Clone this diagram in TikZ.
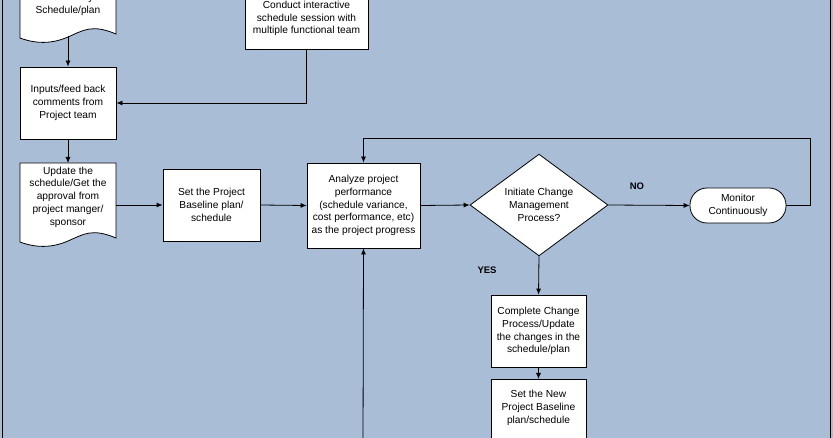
\documentclass[tikz,border=0pt]{standalone}
\usepackage{fontspec}
\setmainfont{Liberation Sans}
\usetikzlibrary{shapes.geometric,arrows.meta}
\begin{document}
\begin{tikzpicture}[x=1pt,y=-1pt,
  ft/.style={font=\fontsize{10.2}{12.8}\selectfont},
  box/.style={draw=black,fill=white,line width=0.8pt,align=center,ft,inner sep=1pt},
  lbl/.style={font=\bfseries\fontsize{9.5}{10}\selectfont},
  arr/.style={-{Latex[length=6pt,width=5pt]},line width=0.8pt}]
\useasboundingbox (0,0) rectangle (833,438);
\clip (0,0) rectangle (833,438);
\fill[fill={rgb,255:red,169;green,189;blue,215}] (0,0) rectangle (833,438);
\draw[line width=0.8pt] (2,-5) -- (2,445);
\draw[line width=0.8pt] (830,-5) -- (830,445);
% documents
\draw[fill=white,line width=0.8pt] (20,-20) -- (116,-20) -- (116,34) .. controls (92,24) and (84,30) .. (68,37) .. controls (52,44) and (36,44) .. (20,38) -- cycle;
\node[align=center,ft] (pre) at (68,4) {Preliminary\\Schedule/plan};
\coordinate (preb) at (68,36);
\node[box,minimum width=96pt,minimum height=72pt] (inp) at (68,103) {Inputs/feed back\\comments from\\Project team};
\draw[fill=white,line width=0.8pt] (20,163) -- (116,163) -- (116,238) .. controls (92,228) and (84,234) .. (68,241) .. controls (52,248) and (36,248) .. (20,242) -- cycle;
\node[align=center,ft] (upd) at (68,197) {Update the\\schedule/Get the\\approval from\\project manger/\\sponsor};
\coordinate (updr) at (116,205);
\coordinate (updt) at (68,163);
\node[box,minimum width=97pt,minimum height=72pt] (base) at (211.5,205) {Set the Project\\Baseline plan/\\schedule};
\node[box,minimum width=113pt,minimum height=85pt] (ana) at (363.5,205.5) {Analyze project\\performance\\(schedule variance,\\cost performance, etc)\\as the project progress};
\node[diamond,draw,fill=white,line width=0.8pt,minimum width=138pt,minimum height=90pt,inner sep=0pt,align=center,ft] (dia) at (539,205) {Initiate Change\\Management\\Process?};
\node[box,rounded corners=17pt,minimum width=96pt,minimum height=35pt] (mon) at (738,205.5) {Monitor\\Continuously};
\draw[fill=white,line width=0.8pt] (245,-20) rectangle (368,49);
\node[align=center,ft] (con) at (306.5,18.5) {Conduct interactive\\schedule session with\\multiple functional team};
\coordinate (conb) at (306.5,49);
\node[box,minimum width=95pt,minimum height=72pt] (cmp) at (538.5,331) {Complete Change\\Process/Update\\the changes in the\\schedule/plan};
\draw[fill=white,line width=0.8pt] (491,379) rectangle (586,460);
\node[align=center,ft] (new) at (538.5,408) {Set the New\\Project Baseline\\plan/schedule};
\coordinate (newt) at (538.5,379);
\node[lbl] (no) at (637,186) {NO};
\node[lbl] (yes) at (487,270) {YES};
\coordinate (lp) at (810,138);
\coordinate (bot) at (363,445);
% arrows
\draw[arr] (preb) -- (inp.north);
\draw[arr] (conb) |- (inp.east);
\draw[arr] (inp.south) -- (updt);
\draw[arr] (updr) -- (base.west);
\draw[arr] (base.east) -- (ana.west);
\draw[arr] (ana.east) -- (dia.west);
\draw[arr] (dia.east) -- (mon.west);
\draw[arr] (mon.east) -| (lp) -| (ana.north);
\draw[arr] (dia.south) -- (cmp.north);
\draw[arr] (cmp.south) -- (newt);
\draw[arr] (bot) -- (ana.south);
\end{tikzpicture}
\end{document}
